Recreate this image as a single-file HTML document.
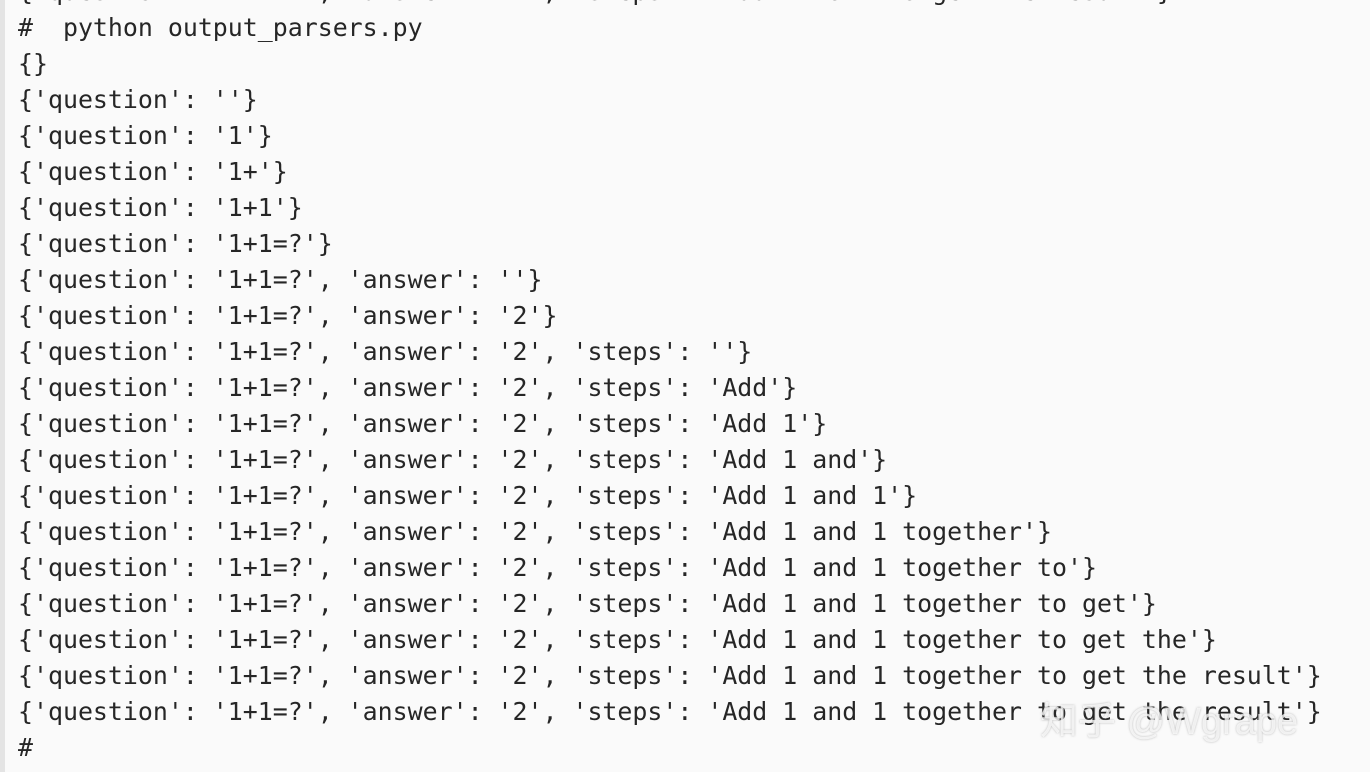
<!DOCTYPE html>
<html><head><meta charset="utf-8"><style>
html,body{margin:0;padding:0;width:1370px;height:772px;overflow:hidden;background:#fafafa;}
.bar{position:absolute;left:0;top:0;width:5px;height:772px;background:#e4e4e4;}
pre{position:absolute;left:18px;top:-26px;margin:0;font-family:"DejaVu Sans Mono","Liberation Mono",monospace;font-size:24.9px;line-height:36px;color:#262626;}
.wm{position:absolute;left:1040px;top:690px;font-family:"Liberation Sans","Noto Sans CJK SC",sans-serif;font-size:38px;color:rgba(255,255,255,0.75);text-shadow:0 0 2px rgba(120,120,120,0.5);}
</style></head><body>
<div class="bar"></div>
<pre>{'question': '1+1=?', 'answer': '2', 'steps': 'Add 1 to 1 to get the result'}
#  python output_parsers.py
{}
{'question': ''}
{'question': '1'}
{'question': '1+'}
{'question': '1+1'}
{'question': '1+1=?'}
{'question': '1+1=?', 'answer': ''}
{'question': '1+1=?', 'answer': '2'}
{'question': '1+1=?', 'answer': '2', 'steps': ''}
{'question': '1+1=?', 'answer': '2', 'steps': 'Add'}
{'question': '1+1=?', 'answer': '2', 'steps': 'Add 1'}
{'question': '1+1=?', 'answer': '2', 'steps': 'Add 1 and'}
{'question': '1+1=?', 'answer': '2', 'steps': 'Add 1 and 1'}
{'question': '1+1=?', 'answer': '2', 'steps': 'Add 1 and 1 together'}
{'question': '1+1=?', 'answer': '2', 'steps': 'Add 1 and 1 together to'}
{'question': '1+1=?', 'answer': '2', 'steps': 'Add 1 and 1 together to get'}
{'question': '1+1=?', 'answer': '2', 'steps': 'Add 1 and 1 together to get the'}
{'question': '1+1=?', 'answer': '2', 'steps': 'Add 1 and 1 together to get the result'}
{'question': '1+1=?', 'answer': '2', 'steps': 'Add 1 and 1 together to get the result'}
#</pre>
<div class="wm">知乎 @Wgrape</div>
</body></html>
